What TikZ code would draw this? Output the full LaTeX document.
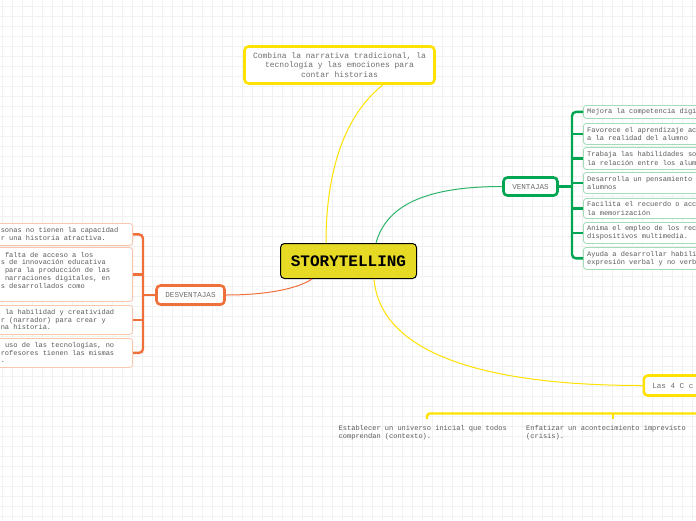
\documentclass[tikz,border=0pt]{standalone}
\usepackage{fontspec}
\setmainfont[WordSpace={1,0,0}]{Liberation Mono}
\definecolor{cyfill}{HTML}{E6DA24}
\definecolor{ybord}{HTML}{FFE200}
\definecolor{gmain}{HTML}{00A651}
\definecolor{gcurve}{HTML}{2DB46A}
\definecolor{glight}{HTML}{A3DDB8}
\definecolor{omain}{HTML}{F0703C}
\definecolor{olight}{HTML}{F9C6AE}
\definecolor{hgray}{HTML}{6E6E6E}
\definecolor{tgray}{HTML}{5A5A5A}
\definecolor{gridc}{HTML}{F1F1F1}
\tikzset{
  centerbox/.style={draw=black, line width=1pt, fill=cyfill, rounded corners=4pt,
    minimum width=136pt, minimum height=35pt, inner sep=0pt,
    font=\fontsize{16}{18}\selectfont\bfseries},
  mainbox/.style={line width=2.6pt, rounded corners=4pt, fill=white, inner sep=0pt,
    font=\fontsize{7.6}{9}\selectfont, text=hgray},
  gitem/.style={draw=glight, line width=0.8pt, fill=white, rounded corners=3pt,
    anchor=north west, minimum width=178pt, inner sep=0pt},
  oitem/.style={draw=olight, line width=0.8pt, fill=white, rounded corners=3pt,
    anchor=north east, minimum width=136pt, inner sep=0pt},
  gtext/.style={anchor=west, inner sep=0pt, align=left,
    font=\fontsize{7}{8.2}\selectfont, text=tgray},
  otext/.style={anchor=west, inner sep=0pt, align=left,
    font=\fontsize{7}{7.75}\selectfont, text=tgray},
  btext/.style={anchor=north west, inner sep=0pt, align=left,
    font=\fontsize{7}{7.5}\selectfont, text=tgray},
  gridline/.style={draw=gridc, line width=0.6pt},
  gbr/.style={draw=gmain, line width=2.4pt},
  obr/.style={draw=omain, line width=2.4pt},
  ybr/.style={draw=ybord, line width=2.4pt},
}
\begin{document}
\begin{tikzpicture}[x=1pt,y=-1pt]
\useasboundingbox (0,0) rectangle (696,520);
\clip (0,0) rectangle (696,520);
\fill[white] (0,0) rectangle (696,520);
\foreach \i in {0,...,69} \draw[gridline] (2.5+10*\i,0) -- (2.5+10*\i,520);
\foreach \j in {0,...,51} \draw[gridline] (0,6.5+10*\j) -- (696,6.5+10*\j);

% main nodes
\node[centerbox] (C) at (348.5,261) {STORYTELLING};
\node[mainbox, draw=ybord, minimum width=190pt, minimum height=37pt, align=center,
  font=\fontsize{8}{9.2}\selectfont, text=hgray] (T) at (339.5,65)
  {Combina la narrativa tradicional, la\\tecnología y las emociones para\\contar historias};
\node[mainbox, draw=gmain, minimum width=54pt, minimum height=18pt] (V) at (530.5,186.5) {VENTAJAS};
\node[mainbox, draw=omain, minimum width=68pt, minimum height=19pt] (D) at (190.5,295) {DESVENTAJAS};
\node[mainbox, draw=ybord, anchor=west, minimum width=120pt, minimum height=20pt] (L) at (642.5,385.5) {};
\node[mainbox, fill=none, anchor=west] (Lt) at ([xshift=8.5pt]L.west) {Las 4 C c};

% curves from the centre
\draw[ybord, line width=1pt] ([xshift=-22.5pt]C.north) .. controls +(0,-73) and +(-38,30) .. ([xshift=43.5pt]T.south);
\draw[gcurve, line width=1pt] ([xshift=27.5pt]C.north) .. controls +(10,-36) and +(-80,0) .. (V.west);
\draw[omain, line width=1pt] (D.east) .. controls +(40,0) and +(-15,10) .. ([xshift=-36.5pt]C.south);
\draw[ybord, line width=1pt] ([xshift=25.5pt]C.south) .. controls +(6,70) and +(-170,0) .. (L.west);

% ventajas items
\node[gitem, minimum height=13pt] (g1) at (583,105) {};
\node[gitem, minimum height=21pt] (g2) at (583,123) {};
\node[gitem, minimum height=22pt] (g3) at (583,147) {};
\node[gitem, minimum height=21pt] (g4) at (583,172) {};
\node[gitem, minimum height=20pt] (g5) at (583,198) {};
\node[gitem, minimum height=21pt] (g6) at (583,222) {};
\node[gitem, minimum height=22pt] (g7) at (583,247) {};
\node[gtext] (gt1) at ([xshift=4pt]g1.west) {Mejora la competencia digi};
\node[gtext] (gt2) at ([xshift=4pt]g2.west) {Favorece el aprendizaje ac\\a la realidad del alumno};
\node[gtext] (gt3) at ([xshift=4pt]g3.west) {Trabaja las habilidades so\\la relación entre los alum};
\node[gtext] (gt4) at ([xshift=4pt]g4.west) {Desarrolla un pensamiento\\alumnos};
\node[gtext] (gt5) at ([xshift=4pt]g5.west) {Facilita el recuerdo o acc\\la memorización};
\node[gtext] (gt6) at ([xshift=4pt]g6.west) {Anima el empleo de los rec\\dispositivos multimedia.};
\node[gtext] (gt7) at ([xshift=4pt]g7.west) {Ayuda a desarrollar habili\\expresión verbal y no verb};
\coordinate (gb) at (572,186.5);
\draw[gbr] (V.east) -- (gb);
\draw[gbr, rounded corners=4pt] (g1.west) -- (gb |- g1.west) -- (gb |- g7.west) -- (g7.west);
\foreach \k in {2,...,6} \draw[gbr] (gb |- g\k.west) -- (g\k.west);

% desventajas items
\node[oitem, minimum height=22pt] (o1) at (133,223) {};
\node[oitem, minimum height=54pt] (o2) at (133,247) {};
\node[oitem, minimum height=29pt] (o3) at (133,305) {};
\node[oitem, minimum height=29pt] (o4) at (133,338) {};
\node[otext] (ot1) at (0.6,234) {sonas no tienen la capacidad\\r una historia atractiva.};
\node[otext] (ot2) at (0.6,274) {\hphantom{x}falta de acceso a los\\s de innovación educativa\\\hphantom{x}para la producción de las\\\hphantom{x}narraciones digitales, en\\s desarrollados como\\\mbox{}};
\node[otext] (ot3) at (0.6,319.5) {\hphantom{x}la habilidad y creatividad\\r (narrador) para crear y\\na historia.};
\node[otext] (ot4) at (0.6,352.5) {\hphantom{x}uso de las tecnologías, no\\rofesores tienen las mismas\\.};
\coordinate (ob) at (143,295);
\draw[obr] (D.west) -- (ob);
\draw[obr, rounded corners=4pt] (o1.east) -- (ob |- o1.east) -- (ob |- o4.east) -- (o4.east);
\foreach \k in {2,3} \draw[obr] (ob |- o\k.east) -- (o\k.east);

% las 4 C children
\node[btext] (b1) at (338.5,425.5) {Establecer un universo inicial que todos\\comprendan (contexto).};
\node[btext] (b2) at (526,425.5) {Enfatizar un acontecimiento imprevisto\\(crisis).};
\coordinate (t1) at (427,419);
\coordinate (t2) at (613,419);
\coordinate (yr) at (720,413.5);
\draw[ybr, rounded corners=3pt] (t1) |- (yr);
\draw[ybr] (t2) -- (t2 |- yr);
\end{tikzpicture}
\end{document}
